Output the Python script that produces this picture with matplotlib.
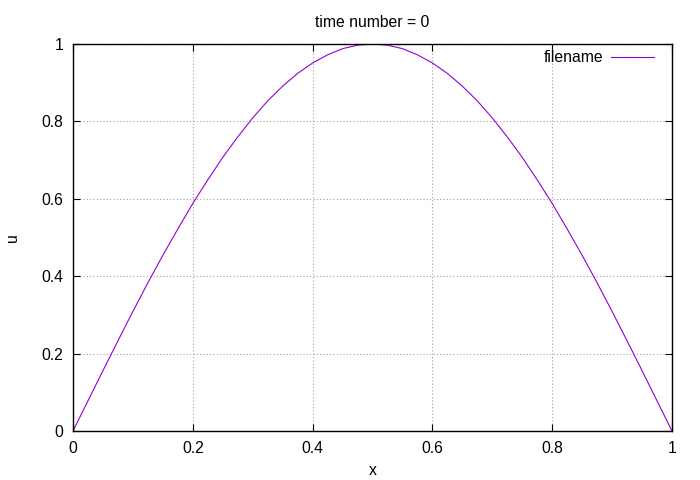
import numpy as np
import matplotlib

matplotlib.use("Agg")
import matplotlib.pyplot as plt

plt.rcParams["font.family"] = ["Liberation Sans", "DejaVu Sans"]

# values
x = [0.0, 0.025, 0.05, 0.075, 0.1, 0.125, 0.15, 0.175, 0.2, 0.225, 0.25,
     0.275, 0.3, 0.325, 0.35, 0.375, 0.4, 0.425, 0.45, 0.475, 0.5,
     0.525, 0.55, 0.575, 0.6, 0.625, 0.65, 0.675, 0.7, 0.725, 0.75,
     0.775, 0.8, 0.825, 0.85, 0.875, 0.9, 0.925, 0.95, 0.975, 1.0]
u = [0.0, 0.078, 0.156, 0.233, 0.309, 0.383, 0.454, 0.522, 0.588, 0.649, 0.707,
     0.760, 0.809, 0.853, 0.891, 0.924, 0.951, 0.972, 0.988, 0.997, 1.0,
     0.997, 0.988, 0.972, 0.951, 0.924, 0.891, 0.853, 0.809, 0.760, 0.707,
     0.649, 0.588, 0.522, 0.454, 0.383, 0.309, 0.233, 0.156, 0.078, 0.0]
series_label = "filename"
title = "time number = 0"
fs = 11.3

fig = plt.figure(figsize=(7, 4.8), dpi=100)
ax = fig.add_axes([73 / 700, 49 / 480, 599 / 700, 387 / 480])
ax.plot(x, u, color="#9400d3", lw=0.8, label=series_label)
ax.set_xlim(0, 1)
ax.set_ylim(0, 1)
ax.set_xticks(np.arange(0, 1.01, 0.2))
ax.set_yticks(np.arange(0, 1.01, 0.2))
ax.set_xticklabels(["0", "0.2", "0.4", "0.6", "0.8", "1"])
ax.set_yticklabels(["0", "0.2", "0.4", "0.6", "0.8", "1"])
ax.grid(True, color="#a0a0a0", linestyle=(0, (1, 2)), lw=0.8)
ax.tick_params(direction="in", top=True, right=True, labelsize=fs,
               length=5, width=0.8, pad=7)
for s in ax.spines.values():
    s.set_linewidth(1.0)
ax.set_xlabel("x", fontsize=fs, labelpad=5)
ax.set_ylabel("u", fontsize=fs, labelpad=15)
ax.set_title(title, fontsize=fs, pad=12)
leg = ax.legend(loc="upper right", frameon=False, fontsize=fs,
                handlelength=2.7, handletextpad=0.5, markerfirst=False,
                borderaxespad=0.0, bbox_to_anchor=(0.98, 1.0))
fig.savefig("out.png")
